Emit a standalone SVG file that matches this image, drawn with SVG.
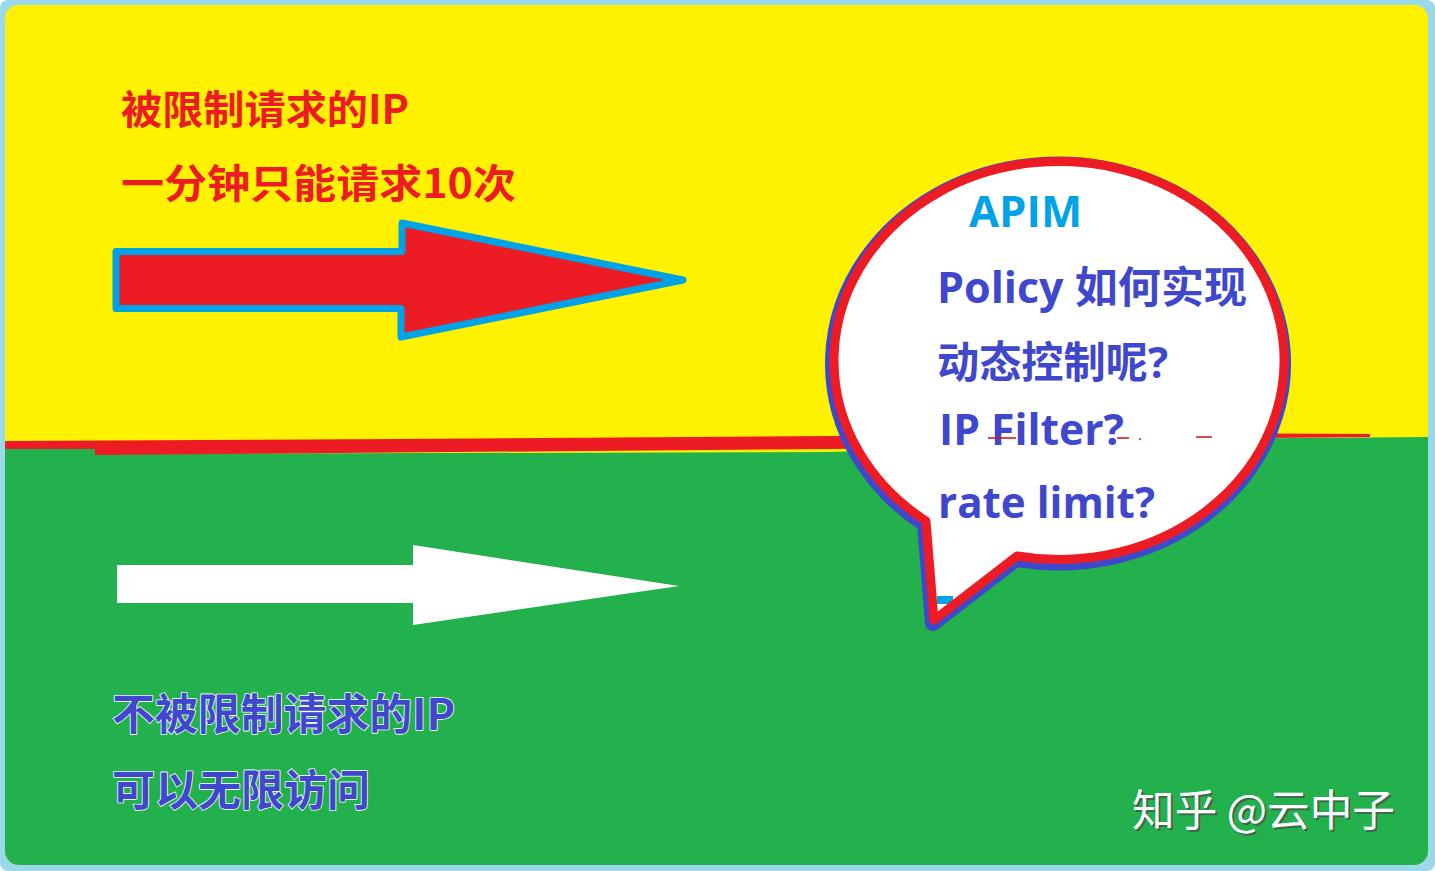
<svg xmlns="http://www.w3.org/2000/svg" width="1435" height="871" viewBox="0 0 1435 871">
  <style>
    .cjk { font-family: "Noto Sans CJK SC", "Noto Sans", sans-serif; font-weight: bold; }
    .bub { font-family: "Open Sans", "Noto Sans CJK SC", sans-serif; font-weight: bold; fill: #3f48cc; font-size: 43px; }
    .red { fill: #ed1c24; font-size: 40px; }
    .blu { fill: #3f48cc; font-size: 43px; stroke: #ffffff; stroke-width: 1.6; paint-order: stroke; stroke-linejoin: round; }
    .wm { font-family: "Noto Sans CJK SC", "Noto Sans", sans-serif; font-size: 43px; }
  </style>
  <defs>
    <clipPath id="panel">
      <rect x="5" y="5" width="1423" height="860" rx="14" ry="14"/>
    </clipPath>
  </defs>

  <g id="background">
    <rect x="0" y="0" width="1435" height="871" fill="#ffffff"/>
    <rect x="0" y="0" width="1435" height="871" rx="8" ry="8" fill="#99d9ea"/>
    <g clip-path="url(#panel)">
      <rect x="0" y="0" width="1435" height="871" fill="#fff200"/>
      <polygon points="0,449 95,449 95,454 830,452 900,450 1150,439 1435,437 1435,871 0,871" fill="#22b14c"/>
      <polygon points="0,441 400,439 830,436 920,436 920,448 830,449 95,455 95,449 0,449" fill="#ed1c24"/>
      <polygon points="1150,433 1370,434 1370,437 1150,439" fill="#ed1c24"/>
    </g>
  </g>

  <g id="restricted-label">
    <text class="cjk red" x="121" y="124" textLength="288" lengthAdjust="spacingAndGlyphs">被限制请求的IP</text>
    <text class="cjk red" x="121" y="198" textLength="395" lengthAdjust="spacingAndGlyphs">一分钟只能请求10次</text>
  </g>

  <g id="connectors">
    <polygon id="red-arrow" points="116,251.5 402,251.5 402,223 683,280 401,337 401,308.5 116,308.5" fill="#ed1c24" stroke="#00a2e8" stroke-width="7" stroke-linejoin="round"/>
    <polygon id="white-arrow" points="117,565 413,565 413,545 679,586 413,625 413,603 117,603" fill="#ffffff"/>
  </g>

  <g id="bubble">
    <path d="M 926 521 L 934 620 L 1017 556 A 225 199 0 1 0 926 521 Z" fill="none" stroke="#3f48cc" stroke-width="16" stroke-linejoin="round" transform="translate(-1,3)"/>
    <path d="M 926 521 L 934 620 L 1017 556 A 225 199 0 1 0 926 521 Z" fill="#ffffff"/>
    <rect x="937" y="596" width="16" height="8" fill="#00a2e8"/>
    <path d="M 926 521 L 934 620 L 1017 556 A 225 199 0 1 0 926 521 Z" fill="none" stroke="#ed1c24" stroke-width="9" stroke-linejoin="round"/>
    <text class="bub" x="969" y="227" style="fill:#00a2e8" textLength="113" lengthAdjust="spacingAndGlyphs">APIM</text>
    <text class="bub" x="937" y="303" textLength="310" lengthAdjust="spacingAndGlyphs">Policy 如何实现</text>
    <text class="bub" x="937" y="378" textLength="231" lengthAdjust="spacingAndGlyphs">动态控制呢?</text>
    <text class="bub" x="939" y="445" textLength="185" lengthAdjust="spacingAndGlyphs">IP Filter?</text>
    <text class="bub" x="938" y="518" textLength="217" lengthAdjust="spacingAndGlyphs">rate limit?</text>
    <g stroke="#c81e1e" stroke-width="1.6">
      <line x1="988" y1="438" x2="1016" y2="438"/>
      <line x1="1117" y1="438" x2="1129" y2="438"/>
      <line x1="1139" y1="439" x2="1141" y2="439"/>
      <line x1="1196" y1="437" x2="1212" y2="437"/>
    </g>
  </g>

  <g id="unrestricted-label">
    <text class="cjk blu" x="112" y="730" textLength="343" lengthAdjust="spacingAndGlyphs">不被限制请求的IP</text>
    <text class="cjk blu" x="112" y="806" textLength="258" lengthAdjust="spacingAndGlyphs">可以无限访问</text>
  </g>

  <g id="watermark">
    <text class="wm" x="1134" y="828" fill="#4a4a4a" opacity="0.7" textLength="263" lengthAdjust="spacingAndGlyphs">知乎 @云中子</text>
    <text class="wm" x="1132" y="826" fill="#ffffff" textLength="263" lengthAdjust="spacingAndGlyphs">知乎 @云中子</text>
  </g>
</svg>
